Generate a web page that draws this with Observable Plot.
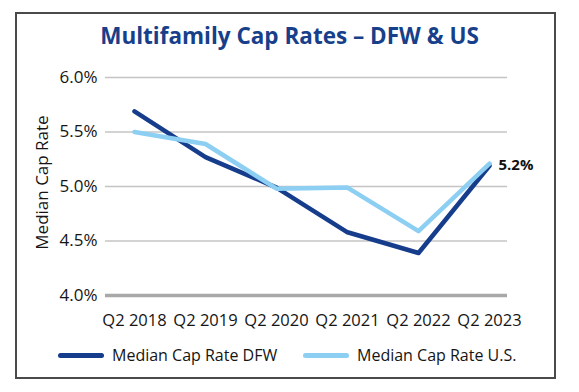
<!DOCTYPE html>
<html>
<head>
<meta charset="utf-8">
<script src="https://cdn.jsdelivr.net/npm/d3@7"></script>
<script src="https://cdn.jsdelivr.net/npm/@observablehq/plot@0.6"></script>
<style>
  body { margin: 0; background: #fff; font-family: "Open Sans", sans-serif; }
  #page { position: relative; width: 579px; height: 392px; overflow: hidden; }
  #frame { position: absolute; left: 15px; top: 12px; width: 537px; height: 363px; border: 2px solid #4a4a4a; }
  #title { position: absolute; left: 0; top: 23px; width: 579px; text-align: center; font-size: 22.5px; line-height: 26px; font-weight: 700; color: #173f8a; }
  #chart { position: absolute; left: 0; top: 60px; }
  .leg { position: absolute; top: 345px; font-size: 16px; line-height: 20px; color: #151515; }
  .sw { position: absolute; height: 5px; border-radius: 3px; }
</style>
</head>
<body>
<div id="page">
  <div id="frame"></div>
  <div id="title">Multifamily Cap Rates – DFW &amp; US</div>
  <div id="chart"></div>
  <div class="sw" style="left:58px; top:353px; width:46px; background:#163d8c"></div>
  <div class="leg" style="left:112px">Median Cap Rate DFW</div>
  <div class="sw" style="left:303px; top:353px; width:46px; background:#8ccff2"></div>
  <div class="leg" style="left:357px">Median Cap Rate U.S.</div>
</div>
<script>
const quarters = ["Q2 2018", "Q2 2019", "Q2 2020", "Q2 2021", "Q2 2022", "Q2 2023"];
const dfw = [5.69, 5.27, 4.99, 4.58, 4.39, 5.19];
const us = [5.50, 5.39, 4.98, 4.99, 4.59, 5.21];
const yTicks = [4.0, 4.5, 5.0, 5.5, 6.0];
const yTitle = "Median Cap Rate";
const endLabel = "5.2%";

const dfwData = quarters.map((q, i) => ({q, v: dfw[i]}));
const usData = quarters.map((q, i) => ({q, v: us[i]}));

const chart = Plot.plot({
  width: 579,
  height: 280,
  marginLeft: 105,
  marginRight: 72,
  marginTop: 17,
  marginBottom: 45,
  style: { fontFamily: "Open Sans, sans-serif", fontSize: "17px", color: "#151515", background: "transparent" },
  x: { type: "point", domain: quarters, padding: 0, insetLeft: 28, insetRight: 18, label: null },
  y: { domain: [4, 6], label: null },
  marks: [
    Plot.ruleY(yTicks.filter(d => d > 4), { stroke: "#c4c4c4", strokeWidth: 1.5 }),
    Plot.ruleY([4], { stroke: "#a8a8a8", strokeWidth: 3.5 }),
    Plot.axisX({ tickSize: 0, tickPadding: 19, fontSize: 16.5, label: null }),
    Plot.axisY({ ticks: yTicks, tickSize: 0, tickPadding: 8, fontSize: 17, tickFormat: d => d.toFixed(1) + "%", label: null }),
    Plot.text([yTitle], { frameAnchor: "left", dx: -63, dy: -4, rotate: -90, fontSize: 17, fill: "#151515", textAnchor: "middle" }),
    Plot.line(dfwData, { x: "q", y: "v", stroke: "#163d8c", strokeWidth: 4.5, strokeLinejoin: "round" }),
    Plot.line(usData, { x: "q", y: "v", stroke: "#8ccff2", strokeWidth: 4.5, strokeLinejoin: "round" }),
    Plot.text([usData[usData.length - 1]], { x: "q", y: "v", text: () => endLabel, dx: 9, dy: 2, textAnchor: "start",
      fontWeight: "bold", fontSize: 15, fill: "#111" })
  ]
});
document.getElementById("chart").appendChild(chart);
</script>
</body>
</html>
